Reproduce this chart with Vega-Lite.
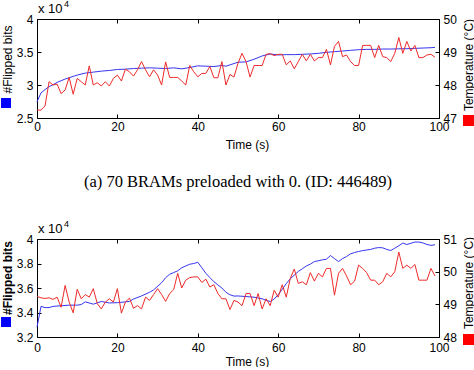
{
  "$schema": "https://vega.github.io/schema/vega-lite/v6.json",
  "padding": 0,
  "background": "white",
  "bounds": "flush",
  "spacing": 121,
  "datasets": {
    "topBits": [
      {"time": 0, "bits": 2.745}, {"time": 1, "bits": 2.88}, {"time": 2, "bits": 2.93}, {"time": 3, "bits": 2.975},
      {"time": 4, "bits": 3.005}, {"time": 5, "bits": 3.04}, {"time": 6, "bits": 3.065}, {"time": 7, "bits": 3.09},
      {"time": 8, "bits": 3.11}, {"time": 9, "bits": 3.13}, {"time": 10, "bits": 3.15}, {"time": 12, "bits": 3.18},
      {"time": 14, "bits": 3.195}, {"time": 16, "bits": 3.21}, {"time": 18, "bits": 3.22}, {"time": 20, "bits": 3.235},
      {"time": 22, "bits": 3.24}, {"time": 24, "bits": 3.25}, {"time": 26, "bits": 3.255}, {"time": 28, "bits": 3.26},
      {"time": 30, "bits": 3.255}, {"time": 32, "bits": 3.25}, {"time": 34, "bits": 3.26}, {"time": 36, "bits": 3.245},
      {"time": 38, "bits": 3.265}, {"time": 40, "bits": 3.29}, {"time": 42, "bits": 3.285}, {"time": 44, "bits": 3.28},
      {"time": 46, "bits": 3.295}, {"time": 47, "bits": 3.285}, {"time": 48, "bits": 3.305}, {"time": 50, "bits": 3.345},
      {"time": 52, "bits": 3.35}, {"time": 54, "bits": 3.39}, {"time": 56, "bits": 3.44}, {"time": 58, "bits": 3.47},
      {"time": 60, "bits": 3.455}, {"time": 62, "bits": 3.46}, {"time": 64, "bits": 3.46}, {"time": 66, "bits": 3.465},
      {"time": 68, "bits": 3.47}, {"time": 70, "bits": 3.48}, {"time": 72, "bits": 3.495}, {"time": 74, "bits": 3.505},
      {"time": 76, "bits": 3.515}, {"time": 78, "bits": 3.525}, {"time": 80, "bits": 3.535}, {"time": 82, "bits": 3.54},
      {"time": 84, "bits": 3.54}, {"time": 86, "bits": 3.545}, {"time": 88, "bits": 3.545}, {"time": 90, "bits": 3.548},
      {"time": 92, "bits": 3.55}, {"time": 94, "bits": 3.555}, {"time": 96, "bits": 3.56}, {"time": 98, "bits": 3.565},
      {"time": 99, "bits": 3.57}
    ],
    "topTemp": [
      {"time": 0, "temp": 47.24}, {"time": 1, "temp": 47.24}, {"time": 2, "temp": 47.36}, {"time": 3, "temp": 48.10}, {"time": 4, "temp": 48.00},
      {"time": 5, "temp": 48.03}, {"time": 6, "temp": 47.74}, {"time": 7, "temp": 47.85}, {"time": 8, "temp": 48.23}, {"time": 9, "temp": 47.72},
      {"time": 10, "temp": 48.20}, {"time": 11, "temp": 48.10}, {"time": 12, "temp": 48.00}, {"time": 13, "temp": 48.58}, {"time": 14, "temp": 48.00},
      {"time": 15, "temp": 48.07}, {"time": 16, "temp": 47.97}, {"time": 17, "temp": 48.10}, {"time": 18, "temp": 47.97}, {"time": 19, "temp": 48.20},
      {"time": 20, "temp": 48.30}, {"time": 21, "temp": 48.12}, {"time": 22, "temp": 48.48}, {"time": 23, "temp": 48.40}, {"time": 24, "temp": 48.27},
      {"time": 25, "temp": 48.46}, {"time": 26, "temp": 48.71}, {"time": 27, "temp": 48.46}, {"time": 28, "temp": 48.25}, {"time": 29, "temp": 48.46},
      {"time": 30, "temp": 48.30}, {"time": 31, "temp": 48.00}, {"time": 32, "temp": 48.70}, {"time": 33, "temp": 48.23}, {"time": 34, "temp": 48.23},
      {"time": 35, "temp": 48.23}, {"time": 36, "temp": 48.12}, {"time": 37, "temp": 48.00}, {"time": 38, "temp": 48.59}, {"time": 39, "temp": 48.40},
      {"time": 40, "temp": 48.25}, {"time": 41, "temp": 48.35}, {"time": 42, "temp": 48.35}, {"time": 43, "temp": 48.56}, {"time": 44, "temp": 48.22},
      {"time": 45, "temp": 48.22}, {"time": 46, "temp": 48.71}, {"time": 47, "temp": 48.00}, {"time": 48, "temp": 48.32}, {"time": 49, "temp": 48.24},
      {"time": 50, "temp": 48.66}, {"time": 51, "temp": 48.96}, {"time": 52, "temp": 48.71}, {"time": 53, "temp": 48.24}, {"time": 54, "temp": 48.59},
      {"time": 55, "temp": 48.59}, {"time": 56, "temp": 48.59}, {"time": 57, "temp": 48.93}, {"time": 58, "temp": 48.95}, {"time": 59, "temp": 48.89},
      {"time": 60, "temp": 48.93}, {"time": 61, "temp": 48.93}, {"time": 62, "temp": 48.61}, {"time": 63, "temp": 48.73}, {"time": 64, "temp": 48.49},
      {"time": 65, "temp": 48.71}, {"time": 66, "temp": 48.93}, {"time": 67, "temp": 48.73}, {"time": 68, "temp": 48.93}, {"time": 69, "temp": 48.73},
      {"time": 70, "temp": 48.83}, {"time": 71, "temp": 48.83}, {"time": 72, "temp": 49.08}, {"time": 73, "temp": 48.61}, {"time": 74, "temp": 49.17},
      {"time": 75, "temp": 49.32}, {"time": 76, "temp": 48.86}, {"time": 77, "temp": 48.91}, {"time": 78, "temp": 48.71}, {"time": 79, "temp": 48.59},
      {"time": 80, "temp": 48.59}, {"time": 81, "temp": 49.20}, {"time": 82, "temp": 49.20}, {"time": 83, "temp": 49.20}, {"time": 84, "temp": 48.83},
      {"time": 85, "temp": 49.20}, {"time": 86, "temp": 48.86}, {"time": 87, "temp": 48.83}, {"time": 88, "temp": 48.71}, {"time": 89, "temp": 48.96},
      {"time": 90, "temp": 49.44}, {"time": 91, "temp": 48.96}, {"time": 92, "temp": 49.32}, {"time": 93, "temp": 49.03}, {"time": 94, "temp": 49.20},
      {"time": 95, "temp": 48.83}, {"time": 96, "temp": 48.83}, {"time": 97, "temp": 48.91}, {"time": 98, "temp": 48.93}, {"time": 99, "temp": 48.84}
    ],
    "botBits": [
      {"time": 0, "bits": 3.28}, {"time": 1, "bits": 3.45}, {"time": 2, "bits": 3.44}, {"time": 3, "bits": 3.44}, {"time": 4, "bits": 3.45},
      {"time": 6, "bits": 3.455}, {"time": 8, "bits": 3.46}, {"time": 10, "bits": 3.46}, {"time": 11, "bits": 3.465}, {"time": 12, "bits": 3.487},
      {"time": 14, "bits": 3.468}, {"time": 16, "bits": 3.49}, {"time": 18, "bits": 3.478}, {"time": 20, "bits": 3.48}, {"time": 22, "bits": 3.487},
      {"time": 23, "bits": 3.49}, {"time": 24, "bits": 3.51}, {"time": 26, "bits": 3.535}, {"time": 28, "bits": 3.565}, {"time": 29, "bits": 3.585},
      {"time": 31, "bits": 3.643}, {"time": 32, "bits": 3.684}, {"time": 33, "bits": 3.712}, {"time": 34, "bits": 3.726}, {"time": 35, "bits": 3.74},
      {"time": 36, "bits": 3.765}, {"time": 37, "bits": 3.78}, {"time": 38, "bits": 3.794}, {"time": 39, "bits": 3.80}, {"time": 40, "bits": 3.81},
      {"time": 41, "bits": 3.765}, {"time": 42, "bits": 3.72}, {"time": 43, "bits": 3.685}, {"time": 44, "bits": 3.652}, {"time": 45, "bits": 3.625},
      {"time": 46, "bits": 3.60}, {"time": 47, "bits": 3.565}, {"time": 48, "bits": 3.545}, {"time": 49, "bits": 3.534}, {"time": 50, "bits": 3.535},
      {"time": 52, "bits": 3.53}, {"time": 54, "bits": 3.525}, {"time": 56, "bits": 3.512}, {"time": 57, "bits": 3.50}, {"time": 58, "bits": 3.49},
      {"time": 59, "bits": 3.51}, {"time": 60, "bits": 3.545}, {"time": 61, "bits": 3.59}, {"time": 62, "bits": 3.635}, {"time": 63, "bits": 3.675},
      {"time": 64, "bits": 3.705}, {"time": 65, "bits": 3.735}, {"time": 66, "bits": 3.757}, {"time": 67, "bits": 3.78}, {"time": 68, "bits": 3.795},
      {"time": 69, "bits": 3.816}, {"time": 70, "bits": 3.822}, {"time": 71, "bits": 3.83}, {"time": 72, "bits": 3.835}, {"time": 73, "bits": 3.865},
      {"time": 74, "bits": 3.84}, {"time": 75, "bits": 3.816}, {"time": 76, "bits": 3.84}, {"time": 77, "bits": 3.857}, {"time": 78, "bits": 3.879},
      {"time": 79, "bits": 3.89}, {"time": 80, "bits": 3.898}, {"time": 81, "bits": 3.905}, {"time": 82, "bits": 3.91}, {"time": 83, "bits": 3.915},
      {"time": 84, "bits": 3.925}, {"time": 85, "bits": 3.93}, {"time": 86, "bits": 3.928}, {"time": 87, "bits": 3.915}, {"time": 88, "bits": 3.906},
      {"time": 89, "bits": 3.925}, {"time": 90, "bits": 3.945}, {"time": 91, "bits": 3.967}, {"time": 92, "bits": 3.955}, {"time": 93, "bits": 3.965},
      {"time": 94, "bits": 3.975}, {"time": 95, "bits": 3.975}, {"time": 96, "bits": 3.968}, {"time": 97, "bits": 3.955}, {"time": 98, "bits": 3.948},
      {"time": 99, "bits": 3.953}
    ],
    "botTemp": [
      {"time": 0, "temp": 49.24}, {"time": 1, "temp": 49.20}, {"time": 2, "temp": 49.18}, {"time": 3, "temp": 49.20}, {"time": 4, "temp": 49.15},
      {"time": 5, "temp": 49.22}, {"time": 6, "temp": 48.91}, {"time": 7, "temp": 49.58}, {"time": 8, "temp": 49.07}, {"time": 9, "temp": 48.74},
      {"time": 10, "temp": 49.46}, {"time": 11, "temp": 49.17}, {"time": 12, "temp": 49.30}, {"time": 13, "temp": 49.22}, {"time": 14, "temp": 49.48},
      {"time": 15, "temp": 49.02}, {"time": 16, "temp": 48.86}, {"time": 17, "temp": 49.07}, {"time": 18, "temp": 49.17}, {"time": 19, "temp": 49.07},
      {"time": 20, "temp": 49.48}, {"time": 21, "temp": 48.73}, {"time": 22, "temp": 49.07}, {"time": 23, "temp": 49.19}, {"time": 24, "temp": 48.88},
      {"time": 25, "temp": 48.96}, {"time": 26, "temp": 48.86}, {"time": 27, "temp": 49.22}, {"time": 28, "temp": 49.12}, {"time": 29, "temp": 49.30},
      {"time": 30, "temp": 49.48}, {"time": 31, "temp": 49.30}, {"time": 32, "temp": 49.09}, {"time": 33, "temp": 49.33}, {"time": 34, "temp": 49.45},
      {"time": 35, "temp": 49.95}, {"time": 36, "temp": 49.50}, {"time": 37, "temp": 49.74}, {"time": 38, "temp": 49.82}, {"time": 39, "temp": 49.84},
      {"time": 40, "temp": 49.84}, {"time": 41, "temp": 49.67}, {"time": 42, "temp": 49.77}, {"time": 43, "temp": 49.53}, {"time": 44, "temp": 49.60},
      {"time": 45, "temp": 49.33}, {"time": 46, "temp": 49.17}, {"time": 47, "temp": 49.17}, {"time": 48, "temp": 48.84}, {"time": 49, "temp": 49.12},
      {"time": 50, "temp": 49.07}, {"time": 51, "temp": 48.96}, {"time": 52, "temp": 49.33}, {"time": 53, "temp": 49.33}, {"time": 54, "temp": 48.96},
      {"time": 55, "temp": 49.33}, {"time": 56, "temp": 48.86}, {"time": 57, "temp": 49.17}, {"time": 58, "temp": 48.96}, {"time": 59, "temp": 49.43},
      {"time": 60, "temp": 49.22}, {"time": 61, "temp": 49.60}, {"time": 62, "temp": 49.22}, {"time": 63, "temp": 49.79}, {"time": 64, "temp": 50.08},
      {"time": 65, "temp": 49.64}, {"time": 66, "temp": 49.69}, {"time": 67, "temp": 49.60}, {"time": 68, "temp": 49.97}, {"time": 69, "temp": 49.71},
      {"time": 70, "temp": 49.95}, {"time": 71, "temp": 49.84}, {"time": 72, "temp": 50.10}, {"time": 73, "temp": 50.10}, {"time": 74, "temp": 49.28},
      {"time": 75, "temp": 49.95}, {"time": 76, "temp": 50.10}, {"time": 77, "temp": 49.87}, {"time": 78, "temp": 49.60}, {"time": 79, "temp": 49.71},
      {"time": 80, "temp": 50.20}, {"time": 81, "temp": 50.10}, {"time": 82, "temp": 49.97}, {"time": 83, "temp": 49.74}, {"time": 84, "temp": 49.74},
      {"time": 85, "temp": 49.60}, {"time": 86, "temp": 49.69}, {"time": 87, "temp": 49.95}, {"time": 88, "temp": 49.84}, {"time": 89, "temp": 50.00},
      {"time": 90, "temp": 50.60}, {"time": 91, "temp": 50.10}, {"time": 92, "temp": 50.20}, {"time": 93, "temp": 50.10}, {"time": 94, "temp": 50.22},
      {"time": 95, "temp": 49.74}, {"time": 96, "temp": 49.74}, {"time": 97, "temp": 49.74}, {"time": 98, "temp": 50.10}, {"time": 99, "temp": 49.87}
    ]
  },
  "config": {
    "view": {"stroke": null},
    "axis": {
      "grid": false, "labelFont": "Liberation Sans", "titleFont": "Liberation Sans",
      "labelFontSize": 12, "titleFontSize": 12, "titleFontWeight": "normal",
      "labelColor": "#000", "titleColor": "#000", "domainColor": "#000", "tickColor": "#000",
      "tickSize": -4, "labelPadding": 8, "labelFlush": false, "labelOverlap": false, "labelBound": false, "domainWidth": 1, "tickWidth": 1
    },
    "legend": {"padding": 0},
    "text": {"font": "Liberation Sans"}
  },
  "vconcat": [
    {
      "width": 402, "height": 99,
      "title": {"text": "(a) 70 BRAMs preloaded with 0. (ID: 446489)", "orient": "bottom", "anchor": "middle", "frame": "group", "font": "Liberation Serif", "fontSize": 16.5, "fontWeight": "normal", "color": "#000", "offset": 24},
      "layer": [
        {
          "data": {"name": "topBits"},
          "mark": {"type": "line", "strokeWidth": 1},
          "encoding": {
            "x": {"field": "time", "type": "quantitative", "scale": {"domain": [0, 100], "nice": false, "zero": false},
                  "axis": {"values": [0, 20, 40, 60, 80, 100], "title": "Time (s)", "titleX": 210, "titleY": 30, "titleAlign": "center", "titleBaseline": "alphabetic", "labelPadding": 7}},
            "y": {"field": "bits", "type": "quantitative", "scale": {"domain": [2.5, 4], "nice": false, "zero": false},
                  "axis": {"values": [2.5, 3, 3.5, 4], "format": "~g", "labelOverlap": false, "title": "#Flipped bits", "titleAngle": -90, "titleX": -30, "titleY": 40, "titleAlign": "center", "titleBaseline": "middle"}},
            "color": {"datum": "Flipped bits", "scale": {"range": ["#3535ee"]},
                      "legend": {"orient": "none", "legendX": -36, "legendY": 79, "title": null, "labelExpr": "''", "symbolType": "square", "symbolSize": 100, "symbolStrokeWidth": 0, "symbolFillColor": "#0000ff",
                                 "encode": {"symbols": {"update": {"fill": {"value": "#0000ff"}, "strokeWidth": {"value": 0}, "opacity": {"value": 1}}}}}}
          }
        },
        {
          "data": {"name": "topTemp"},
          "mark": {"type": "line", "strokeWidth": 1},
          "encoding": {
            "x": {"field": "time", "type": "quantitative", "axis": {"orient": "top", "labels": false, "title": null, "values": [0, 20, 40, 60, 80, 100]}},
            "y": {"field": "temp", "type": "quantitative", "scale": {"domain": [47, 50], "nice": false, "zero": false},
                  "axis": {"orient": "right", "values": [47, 48, 49, 50], "title": "Temperature (°C)", "titleAngle": -90, "titleX": 29, "titleY": 45.5, "titleAlign": "center", "titleBaseline": "middle"}},
            "color": {"datum": "Temperature", "scale": {"range": ["#ee2a2a"]},
                      "legend": {"orient": "none", "legendX": 426, "legendY": 96, "title": null, "labelExpr": "''", "symbolType": "square", "symbolSize": 121, "symbolStrokeWidth": 0, "symbolFillColor": "#ff0000",
                                 "encode": {"symbols": {"update": {"fill": {"value": "#ff0000"}, "strokeWidth": {"value": 0}, "opacity": {"value": 1}}}}}}
          }
        },
        {
          "data": {"values": [{"label": "x 10"}]},
          "mark": {"type": "text", "align": "left", "baseline": "alphabetic", "fontSize": 13, "dx": 1, "dy": -6, "color": "#000"},
          "encoding": {"x": {"datum": 0, "axis": null}, "y": {"datum": 4, "scale": {"domain": [2.5, 4]}, "axis": null}, "text": {"field": "label"}}
        },
        {
          "data": {"values": [{"label": "4"}]},
          "mark": {"type": "text", "align": "left", "baseline": "alphabetic", "fontSize": 9, "dx": 27, "dy": -12, "color": "#000"},
          "encoding": {"x": {"datum": 0, "axis": null}, "y": {"datum": 4, "scale": {"domain": [2.5, 4]}, "axis": null}, "text": {"field": "label"}}
        }
      ],
      "resolve": {"scale": {"y": "independent", "color": "independent"}, "axis": {"x": "independent"}}
    },
    {
      "width": 402, "height": 98,
      "layer": [
        {
          "data": {"name": "botBits"},
          "mark": {"type": "line", "strokeWidth": 1},
          "encoding": {
            "x": {"field": "time", "type": "quantitative", "scale": {"domain": [0, 100], "nice": false, "zero": false},
                  "axis": {"values": [0, 20, 40, 60, 80, 100], "title": "Time (s)", "titleX": 210, "titleY": 28, "titleAlign": "center", "titleBaseline": "alphabetic", "labelPadding": 9,
                           "encode": {"labels": {"update": {"dx": {"signal": "datum.value === 100 ? -4 : 10"}}}}}},
            "y": {"field": "bits", "type": "quantitative", "scale": {"domain": [3.2, 4], "nice": false, "zero": false},
                  "axis": {"values": [3.2, 3.4, 3.6, 3.8, 4], "format": "~g", "labelOverlap": false, "title": "#Flipped bits", "titleFontWeight": "bold", "titleAngle": -90, "titleX": -30, "titleY": 38.5, "titleAlign": "center", "titleBaseline": "middle"}},
            "color": {"datum": "Flipped bits", "scale": {"range": ["#3535ee"]},
                      "legend": {"orient": "none", "legendX": -36, "legendY": 78, "title": null, "labelExpr": "''", "symbolType": "square", "symbolSize": 100, "symbolStrokeWidth": 0, "symbolFillColor": "#0000ff",
                                 "encode": {"symbols": {"update": {"fill": {"value": "#0000ff"}, "strokeWidth": {"value": 0}, "opacity": {"value": 1}}}}}}
          }
        },
        {
          "data": {"name": "botTemp"},
          "mark": {"type": "line", "strokeWidth": 1},
          "encoding": {
            "x": {"field": "time", "type": "quantitative", "axis": {"orient": "top", "labels": false, "title": null, "values": [0, 20, 40, 60, 80, 100]}},
            "y": {"field": "temp", "type": "quantitative", "scale": {"domain": [48, 51], "nice": false, "zero": false},
                  "axis": {"orient": "right", "values": [48, 49, 50, 51], "title": "Temperature (°C)", "titleAngle": -90, "titleX": 29, "titleY": 43.5, "titleAlign": "center", "titleBaseline": "middle"}},
            "color": {"datum": "Temperature", "scale": {"range": ["#ee2a2a"]},
                      "legend": {"orient": "none", "legendX": 426, "legendY": 95, "title": null, "labelExpr": "''", "symbolType": "square", "symbolSize": 121, "symbolStrokeWidth": 0, "symbolFillColor": "#ff0000",
                                 "encode": {"symbols": {"update": {"fill": {"value": "#ff0000"}, "strokeWidth": {"value": 0}, "opacity": {"value": 1}}}}}}
          }
        },
        {
          "data": {"values": [{"label": "x 10"}]},
          "mark": {"type": "text", "align": "left", "baseline": "alphabetic", "fontSize": 13, "dx": 1, "dy": -6, "color": "#000"},
          "encoding": {"x": {"datum": 0, "axis": null}, "y": {"datum": 4, "scale": {"domain": [3.2, 4]}, "axis": null}, "text": {"field": "label"}}
        },
        {
          "data": {"values": [{"label": "4"}]},
          "mark": {"type": "text", "align": "left", "baseline": "alphabetic", "fontSize": 9, "dx": 27, "dy": -12, "color": "#000"},
          "encoding": {"x": {"datum": 0, "axis": null}, "y": {"datum": 4, "scale": {"domain": [3.2, 4]}, "axis": null}, "text": {"field": "label"}}
        }
      ],
      "resolve": {"scale": {"y": "independent", "color": "independent"}, "axis": {"x": "independent"}}
    }
  ]
}
